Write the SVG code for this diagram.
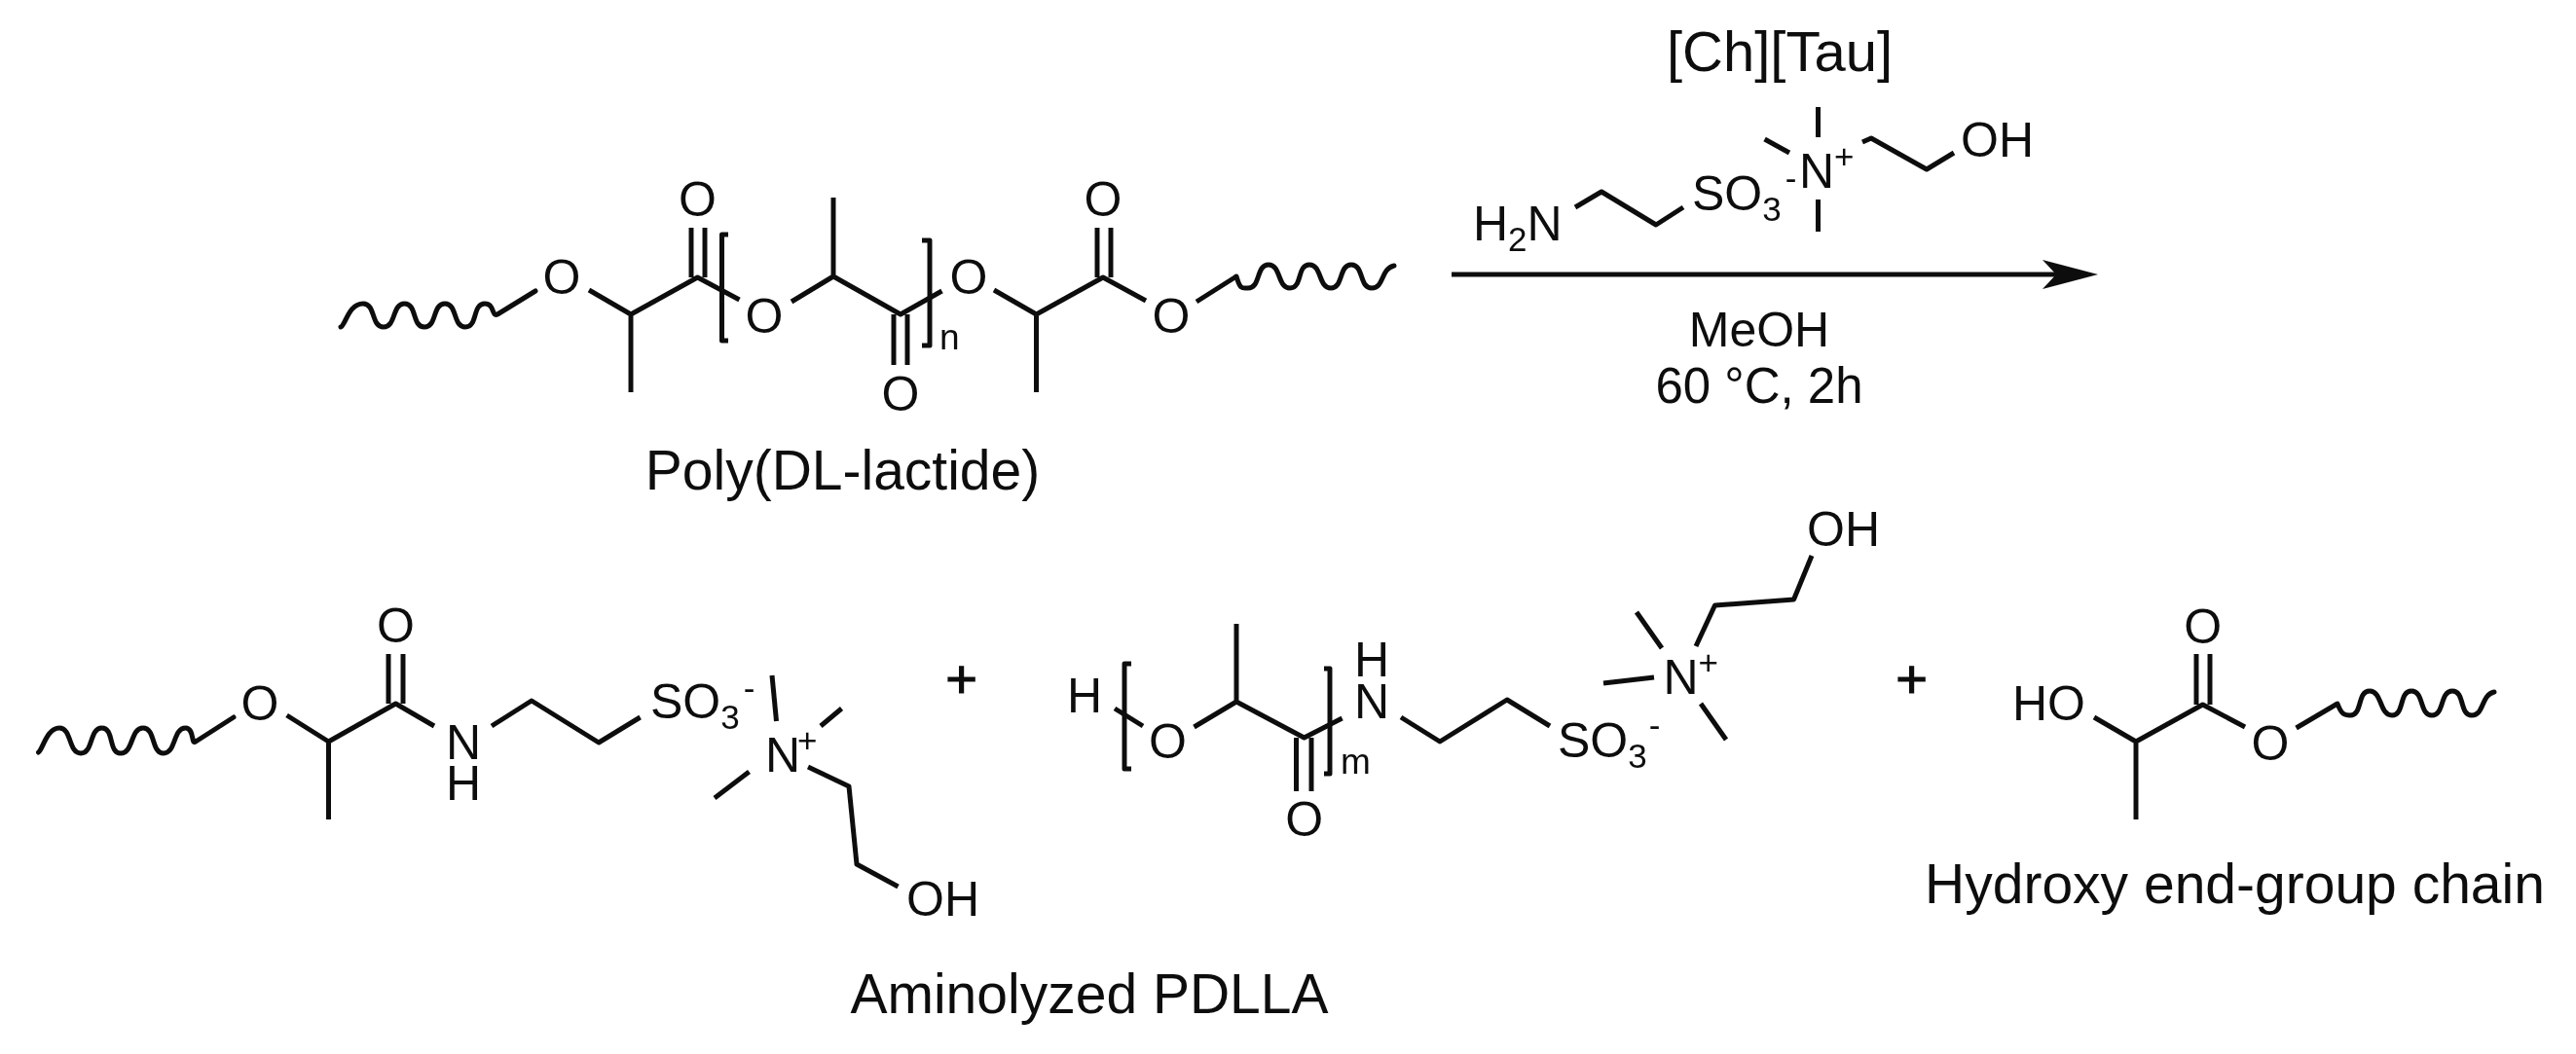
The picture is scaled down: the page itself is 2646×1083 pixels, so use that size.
<svg xmlns="http://www.w3.org/2000/svg" width="2646" height="1083" viewBox="0 0 2646 1083">
<style>
.b{fill:none;stroke:#111;stroke-width:5;stroke-linejoin:round}
.w{fill:none;stroke:#111;stroke-width:5;stroke-linejoin:round;stroke-linecap:round}
text{font-family:"Liberation Sans",Arial,sans-serif;fill:#111;font-size:50px}
.c{text-anchor:middle}
.l{font-size:57px;text-anchor:middle}
.s{font-size:35px}
.m{font-size:37px}
.p{font-size:56px;text-anchor:middle;stroke:#111;stroke-width:1.2px}
.soft{filter:url(#soft)}
</style>
<defs>
<filter id="soft" x="0" y="0" width="2646" height="1083" filterUnits="userSpaceOnUse"><feGaussianBlur stdDeviation="0.6"/></filter>
<marker id="head" markerUnits="userSpaceOnUse" markerWidth="60" markerHeight="34" refX="14" refY="15" orient="auto" overflow="visible"><path d="M0 0L57 15L0 30L14 15Z" fill="#111"/></marker>
</defs>
<rect width="2646" height="1083" fill="#fff"/>
<g id="connectors" class="soft">
<path class="b" d="M1491 282H2112" marker-end="url(#head)"/>
</g>
<g id="poly-dl-lactide" class="soft">
<path class="w" d="M350 336C355 334 358 312 373 312C386 312 381 336 394 336S402.5 312 415.5 312S423 336 436 336S444 312 457 312S465 336 478 336S485 312 498 312C508 312 505 326 511 323L550 299"/>
<path class="b" d="M605 298L648 323V403M648 323L716.5 285L759.5 308M710 234V285M724 234V285M813 310L856 284V203M856 284L925 323L967.5 299M918 323V375M932 323V375M1021 298L1064.5 323V403M1064.5 323L1133 285L1177 309M1127 234V285M1141 234V285M1229 310L1270 284"/>
<path class="w" d="M1270 284C1274 298 1276 296 1282 296C1295 296 1290 272 1303 272S1312 296 1325 296S1332 272 1345 272S1354 296 1367 296S1375 272 1388 272S1396 296 1409 296C1422 296 1418 276 1432 273"/>
<path class="b" d="M748 241H741.5V350H748M947 247H955V355H947"/>
<text class="c" x="577" y="302">O</text>
<text class="c" x="716.5" y="222">O</text>
<text class="c" x="785" y="342">O</text>
<text class="c" x="925" y="422">O</text>
<text class="c" x="995" y="302">O</text>
<text class="c" x="1133" y="222">O</text>
<text class="c" x="1203" y="342">O</text>
<text class="m" x="965" y="359">n</text>
<text class="l" x="865.5" y="503">Poly(DL-lactide)</text>
</g>
<g id="ch-tau" class="soft">
<text class="c" style="font-size:58px" x="1828" y="73">[Ch][Tau]</text>
<path class="b" d="M1618 213L1645 197L1701 231L1729 213M1867.5 110V141M1812.6 143L1838 157M1867.5 205V238M1913 146L1922 142L1979 174L2007 157"/>
<text x="1513" y="247">H<tspan class="s" dy="11">2</tspan><tspan dy="-11">N</tspan></text>
<text x="1738" y="216">SO<tspan class="s" dy="11">3</tspan><tspan class="s" dx="4" dy="-32">-</tspan></text>
<text x="1848" y="193">N<tspan class="s" dy="-20">+</tspan></text>
<text x="2014" y="161">OH</text>
</g>
<g id="conditions" class="soft">
<text class="c" x="1807" y="356">MeOH</text>
<text class="c" style="font-size:51px" x="1807" y="414">60 °C, 2h</text>
</g>
<g id="aminolyzed-pdlla" class="soft">
<path class="w" d="M39.5 773C44 770 48 748 61 748C74 748 70 774 83 774S91.6 748 104.6 748S111 774 124 774S134 748 147 748S155 774 168 774S177.5 748 190.5 748C200 748 196 766 201 762L240 737"/>
<path class="b" d="M294.6 735L337.5 762V842M337.5 762L406.5 723L446 746M399 672V723M414 672V723M505 746L546 720L615 763L657.6 737M793 694L797.5 741M864.5 728L843 746M769.5 793L734 820M830 788L872 808L880 888L922.5 911"/>
<text class="c" x="267" y="740">O</text>
<text class="c" x="406.5" y="660">O</text>
<text class="c" x="476" y="780">N<tspan x="476" dy="42">H</tspan></text>
<text x="668" y="738">SO<tspan class="s" dy="11">3</tspan><tspan class="s" dx="4" dy="-30">-</tspan></text>
<text x="786" y="793">N<tspan class="s" dx="-3" dy="-20">+</tspan></text>
<text x="931" y="941">OH</text>
<text class="l" x="1119" y="1041">Aminolyzed PDLLA</text>
</g>
<text id="plus-1" class="p soft" x="987.5" y="717">+</text>
<g id="amine-terminated-chain" class="soft">
<path class="b" d="M1145 728L1174 746M1226.5 747L1270 721V641M1270 721L1339.6 758L1378.6 738M1331.5 758V813M1347 758V813M1439 737L1479 762L1548 719L1592 746M1681 629L1707 666M1647 702L1699 696M1747 723L1773 760M1742 664L1761.5 622L1842.5 616L1861 571"/>
<path class="b" d="M1162 682H1155V790H1162M1360 687H1366V795H1360"/>
<text x="1096" y="732">H</text>
<text class="c" x="1199.5" y="779">O</text>
<text class="c" x="1339.6" y="859">O</text>
<text class="m" x="1377" y="795">m</text>
<text class="c" x="1409" y="695">H<tspan x="1409" dy="43">N</tspan></text>
<text x="1600" y="778">SO<tspan class="s" dy="11">3</tspan><tspan class="s" dx="2" dy="-32">-</tspan></text>
<text x="1708.5" y="713">N<tspan class="s" dy="-20">+</tspan></text>
<text x="1856" y="561">OH</text>
</g>
<text id="plus-2" class="p soft" x="1963.5" y="717">+</text>
<g id="hydroxy-end-group-chain" class="soft">
<path class="b" d="M2151 737L2194 762V842M2194 762L2262.6 724L2306 747M2256 672V724M2270 672V724M2358.6 748L2401 723"/>
<path class="w" d="M2401 723C2405 734 2408 735 2414 735C2427 735 2421 710 2434 710S2444 735 2457 735S2464 710 2477 710S2485 735 2498 735S2506 710 2519 710S2526 735 2539 735C2552 735 2548 714 2562 711"/>
<text x="2067" y="740">HO</text>
<text class="c" x="2262.6" y="661">O</text>
<text class="c" x="2332" y="781">O</text>
<text class="l" x="2295.5" y="928">Hydroxy end-group chain</text>
</g>
</svg>
